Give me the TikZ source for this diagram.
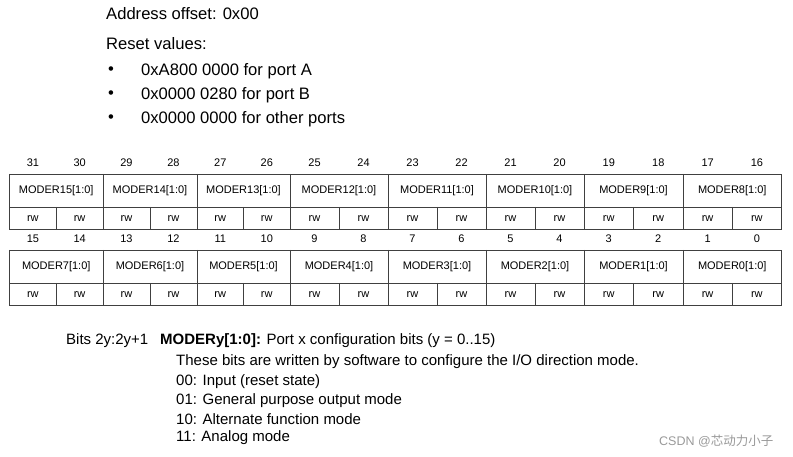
\documentclass[tikz,border=0pt]{standalone}
\usepackage{fontspec}
\setmainfont{Liberation Sans}
\newfontfamily\cjk{Noto Sans CJK SC}
\begin{document}
\begin{tikzpicture}[x=1pt,y=-1pt,
  txt/.style={anchor=west,inner sep=0pt,font=\fontsize{16.6}{19}\selectfont},
  btxt/.style={anchor=west,inner sep=0pt,font=\fontsize{15}{17}\selectfont},
  cell/.style={inner sep=0pt,font=\fontsize{11}{13}\selectfont},
  grid/.style={draw=black!75,line width=0.7pt}]
\useasboundingbox (0,0) rectangle (793,457);
\node[txt] (addr) at (106,14) {Address offset: 0x00};
\node[txt] (reset) at (106,44) {Reset values:};
\foreach \y/\t [count=\i] in {71/0xA800 0000 for port A,95/0x0000 0280 for port B,119/0x0000 0000 for other ports}{
  \node[txt] (b\i) at (108,\y) {\textbullet};
  \node[txt] (r\i) at (141,\y) {\t};
}
\def\xs{{9.5,103,197,290,388,486,584,683,781.5}}
\foreach \row/\top in {0/174,1/250}{
  \pgfmathsetmacro\mid{\top+33}
  \pgfmathsetmacro\bot{\top+55.5}
  \draw[grid] (9.5,\top) rectangle (781.5,\bot);
  \draw[grid] (9.5,\mid) -- (781.5,\mid);
  \foreach \f in {0,...,7}{
    \pgfmathsetmacro\xa{\xs[\f]}
    \pgfmathsetmacro\xb{\xs[\f+1]}
    \pgfmathsetmacro\xm{(\xa+\xb)/2}
    \pgfmathtruncatemacro\fld{15-\f-8*\row}
    \pgfmathtruncatemacro\bh{31-2*\f-16*\row}
    \pgfmathtruncatemacro\bl{\bh-1}
    \draw[grid] (\xa,\top) -- (\xa,\bot);
    \draw[grid] (\xm,\mid) -- (\xm,\bot);
    \node[cell] (f\fld) at (\xm,{(\top+\mid)/2}) {MODER\fld[1:0]};
    \node[cell] (rwh\fld) at ({(\xa+\xm)/2},{(\mid+\bot)/2}) {rw};
    \node[cell] (rwl\fld) at ({(\xm+\xb)/2},{(\mid+\bot)/2}) {rw};
    \node[cell] (n\bh) at ({(\xa+\xm)/2},\top-11) {\bh};
    \node[cell] (n\bl) at ({(\xm+\xb)/2},\top-11) {\bl};
  }
}
\node[btxt] (bits) at (66,341) {Bits 2y:2y+1};
\node[btxt] (desc) at (160,341) {\textbf{MODERy[1:0]:} Port x configuration bits (y = 0..15)};
\node[btxt] (d1) at (176,362) {These bits are written by software to configure the I/O direction mode.};
\node[btxt] (d2) at (176,382) {00: Input (reset state)};
\node[btxt] (d3) at (176,401) {01: General purpose output mode};
\node[btxt] (d4) at (176,419) {10: Alternate function mode};
\node[btxt] (d5) at (176,438) {11: Analog mode};
\node[anchor=west,inner sep=0pt,text=black!40,font=\fontsize{12.5}{14}\selectfont] (wm) at (659,441) {CSDN @{\cjk 芯动力小子}};
\end{tikzpicture}
\end{document}
